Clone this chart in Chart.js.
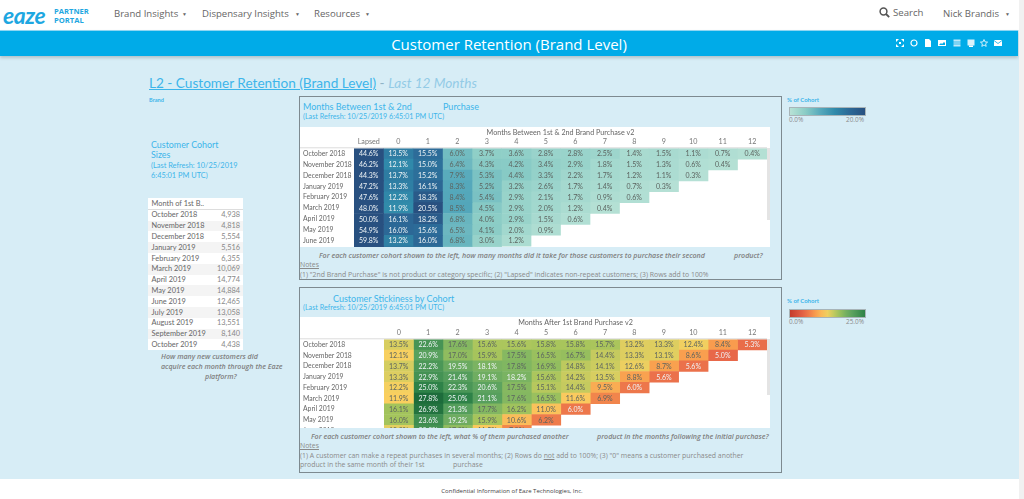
<!DOCTYPE html>
<html>
<head>
<meta charset="utf-8">
<title>Customer Retention (Brand Level)</title>
<script src="https://cdn.jsdelivr.net/npm/chart.js@4/dist/chart.umd.min.js"></script>
<style>
html, body { margin: 0; padding: 0; }
body { width: 1024px; height: 499px; overflow: hidden; position: relative; background: #d7edf6; font-family: Lato, sans-serif; color: #666; }
.t { position: absolute; white-space: nowrap; line-height: 1; }
.blue { color: #3db5ea; }
.q { font-family: "Open Sans", sans-serif; font-style: italic; font-weight: 600; color: #808080; font-size: 7.1px; }
.n { font-family: "Open Sans", sans-serif; color: #8a8a8a; font-size: 6.9px; }
.m { font-family: "Open Sans", sans-serif; font-size: 9.6px; }
.c { font-size: 5px; }
#nav { position: absolute; left: 0; top: 0; width: 1024px; height: 30px; background: #fff; }
#band { position: absolute; left: 0; top: 30px; width: 1018px; height: 26px; background: #00abe8; border-top: 1px solid #8fd6f2; box-sizing: border-box; box-shadow: 0 2px 3px rgba(0,0,0,.18); }
#foot { position: absolute; left: 0; top: 479px; width: 1024px; height: 20px; background: #fff; }
#scroll { position: absolute; left: 1019px; top: 0; width: 5px; height: 499px; background: #f1f1f1; }
.panel { position: absolute; left: 299px; width: 483px; border: 1px solid #7d8a90; box-sizing: border-box; }
.white { position: absolute; background: #fff; overflow: hidden; }
.bar { position: absolute; left: 767px; width: 3px; background: #e4e4e4; }
.white canvas { display: block; }
.legend { position: absolute; left: 789px; width: 77px; height: 9px; box-sizing: border-box; border: 1px solid #a8b4b8; }
#cohort { position: absolute; left: 148px; top: 198px; width: 95px; height: 150px; background: #fff; border-collapse: collapse; font-size: 7.4px; color: #666; }
#cohort td, #cohort th { padding: 0 3px 0 3.500px; height: 10.8px; font-weight: 400; line-height: 1; white-space: nowrap; }
#cohort th { text-align: left; border-bottom: 1px solid #ddd; }
#cohort td:last-child { text-align: right; color: #888; }
#cohort tr.alt td { background: #f4f4f4; }
svg.ic { position: absolute; top: 39px; width: 8px; height: 8px; }
</style>
</head>
<body>
<div id="nav"></div>
<div class="t" style="left:3px;top:1px;font:italic 700 23px Lato,sans-serif;color:#1ea7e1;letter-spacing:-.5px">eaze</div>
<div class="t" style="left:54px;top:7px;font:700 7.6px/8.5px 'Open Sans',sans-serif;color:#1ea7e1;white-space:pre">PARTNER
PORTAL</div>
<div class="t m" style="left:114px;top:9px">Brand Insights</div>
<div class="t c" style="left:182px;top:12px">&#9660;</div>
<div class="t m" style="left:202px;top:9px">Dispensary Insights</div>
<div class="t c" style="left:295px;top:12px">&#9660;</div>
<div class="t m" style="left:314px;top:9px">Resources</div>
<div class="t c" style="left:365px;top:12px">&#9660;</div>
<svg style="position:absolute;left:879px;top:7px;width:11px;height:11px" viewBox="0 0 11 11"><circle cx="4.5" cy="4.5" r="3.4" fill="none" stroke="#555" stroke-width="1.5"/><line x1="7" y1="7" x2="10.2" y2="10.2" stroke="#555" stroke-width="1.8"/></svg>
<div class="t m" style="left:893px;top:8px">Search</div>
<div class="t m" style="left:943px;top:9px">Nick Brandis</div>
<div class="t c" style="left:1005px;top:12px">&#9660;</div>
<div id="band"></div>
<div class="t" style="left:0;top:34px;width:1018px;text-align:center;font:15px 'Open Sans',sans-serif;color:#fff">Customer Retention (Brand Level)</div>
<div id="icons"></div>

<div class="t blue" style="left:149px;top:77px;font-size:13.6px"><u>L2 - Customer Retention (Brand Level)</u> <span style="color:#8fb4c6">- <i style="color:#93cbe6">Last 12 Months</i></span></div>
<div class="t blue" style="left:149px;top:97px;font-size:5.6px;font-weight:700">Brand</div>

<div class="t blue" style="left:151px;top:141px;font-size:8.9px">Customer Cohort</div>
<div class="t blue" style="left:151px;top:151px;font-size:8.9px">Sizes</div>
<div class="t blue" style="left:151px;top:162px;font-size:7.4px">(Last Refresh: 10/25/2019</div>
<div class="t blue" style="left:151px;top:172px;font-size:7.4px">6:45:01 PM UTC)</div>
<table id="cohort"></table>
<div class="t q" style="left:161px;top:353px">How many new customers did</div>
<div class="t q" style="left:161px;top:363px">acquire each month through the Eaze</div>
<div class="t q" style="left:205px;top:373px">platform?</div>

<div class="panel" style="top:96px;height:184px"></div>
<div class="t blue" style="left:303px;top:102px;font-size:9px">Months Between 1st &amp; 2nd</div>
<div class="t blue" style="left:443px;top:102px;font-size:9px">Purchase</div>
<div class="t blue" style="left:303px;top:113px;font-size:7.2px">(Last Refresh: 10/25/2019 6:45:01 PM UTC)</div>
<div class="white" style="left:300px;top:127px;width:470px;height:120px"><canvas id="gapChart" width="467" height="130"></canvas></div>
<div class="bar" style="top:148px;height:72px"></div>
<div class="t q" style="left:319px;top:252px">For each customer cohort shown to the left, how many months did it take for those customers to purchase their second</div>
<div class="t q" style="left:734px;top:252px">product?</div>
<div class="t n" style="left:300px;top:262px"><u>Notes</u></div>
<div class="t n" style="left:300px;top:272px">(1) "2nd Brand Purchase" is not product or category specific; (2) "Lapsed" indicates non-repeat customers; (3) Rows add to 100%</div>

<div class="panel" style="top:287px;height:186px"></div>
<div class="t blue" style="left:333px;top:294px;font-size:9px">Customer Stickiness by Cohort</div>
<div class="t blue" style="left:303px;top:304px;font-size:7.2px">(Last Refresh: 10/25/2019 6:45:01 PM UTC)</div>
<div class="white" style="left:300px;top:317px;width:470px;height:111px"><canvas id="stickChart" width="467" height="119"></canvas></div>
<div class="bar" style="top:339px;height:56px"></div>
<div class="t q" style="left:311px;top:433px">For each customer cohort shown to the left, what % of them purchased another</div>
<div class="t q" style="left:597px;top:433px">product in the months following the initial purchase?</div>
<div class="t n" style="left:300px;top:443px"><u>Notes</u></div>
<div class="t n" style="left:300px;top:453px">(1) A customer can make a repeat purchases in several months; (2) Rows do <u>not</u> add to 100%; (3) "0" means a customer purchased another</div>
<div class="t n" style="left:300px;top:462px">product in the same month of their 1st</div>
<div class="t n" style="left:453px;top:462px">purchase</div>

<div class="t blue" style="left:787px;top:97px;font-size:6px;font-weight:700">% of Cohort</div>
<div class="legend" id="legendBlue" style="top:107px"></div>
<div class="t n" style="left:789px;top:117px;font-size:6.4px">0.0%</div>
<div class="t n" style="left:846px;top:117px;font-size:6.4px">20.0%</div>
<div class="t blue" style="left:787px;top:298px;font-size:6px;font-weight:700">% of Cohort</div>
<div class="legend" id="legendHeat" style="top:309px"></div>
<div class="t n" style="left:789px;top:319px;font-size:6.4px">0.0%</div>
<div class="t n" style="left:846px;top:319px;font-size:6.4px">25.0%</div>

<div id="foot"></div>
<div class="t" style="left:0;top:487px;width:1024px;text-align:center;font:6px 'Open Sans',sans-serif;color:#444">Confidential Information of Eaze Technologies, Inc.</div>
<div id="scroll"></div>

<script>
const cohortMonths = ["October 2018", "November 2018", "December 2018", "January 2019", "February 2019", "March 2019", "April 2019", "May 2019", "June 2019", "July 2019", "August 2019", "September 2019", "October 2019"];
const cohortSizes = ["4,938", "4,818", "5,554", "5,516", "6,355", "10,069", "14,774", "14,884", "12,465", "13,058", "13,551", "8,140", "4,438"];

const gapColumns = ["Lapsed", "0", "1", "2", "3", "4", "5", "6", "7", "8", "9", "10", "11", "12"];
const gapOct18 = [44.6, 13.5, 15.5, 6.0, 3.7, 3.6, 2.8, 2.8, 2.5, 1.4, 1.5, 1.1, 0.7, 0.4];
const gapNov18 = [46.2, 12.1, 15.0, 6.4, 4.3, 4.2, 3.4, 2.9, 1.8, 1.5, 1.3, 0.6, 0.4];
const gapDec18 = [44.3, 13.7, 15.2, 7.9, 5.3, 4.4, 3.3, 2.2, 1.7, 1.2, 1.1, 0.3];
const gapJan19 = [47.2, 13.3, 16.1, 8.3, 5.2, 3.2, 2.6, 1.7, 1.4, 0.7, 0.3];
const gapFeb19 = [47.6, 12.2, 18.3, 8.4, 5.4, 2.9, 2.1, 1.7, 0.9, 0.6];
const gapMar19 = [48.0, 11.9, 20.5, 8.5, 4.5, 2.9, 2.0, 1.2, 0.4];
const gapApr19 = [50.0, 16.1, 18.2, 6.8, 4.0, 2.9, 1.5, 0.6];
const gapMay19 = [54.9, 16.0, 15.6, 6.5, 4.1, 2.0, 0.9];
const gapJun19 = [59.8, 13.2, 16.0, 6.8, 3.0, 1.2];
const gapJul19 = [62.0, 14.0, 15.0, 6.0, 2.5];
const gapRows = [gapOct18, gapNov18, gapDec18, gapJan19, gapFeb19, gapMar19, gapApr19, gapMay19, gapJun19, gapJul19];

const stickColumns = ["0", "1", "2", "3", "4", "5", "6", "7", "8", "9", "10", "11", "12"];
const stickOct18 = [13.5, 22.6, 17.6, 15.6, 15.6, 15.8, 15.8, 15.7, 13.2, 13.3, 12.4, 8.4, 5.3];
const stickNov18 = [12.1, 20.9, 17.0, 15.9, 17.5, 16.5, 16.7, 14.4, 13.3, 13.1, 8.6, 5.0];
const stickDec18 = [13.7, 22.2, 19.5, 18.1, 17.8, 16.9, 14.8, 14.1, 12.6, 8.7, 5.6];
const stickJan19 = [13.3, 22.9, 21.4, 19.1, 18.2, 15.6, 14.2, 13.5, 8.8, 5.6];
const stickFeb19 = [12.2, 25.0, 22.3, 20.6, 17.5, 15.1, 14.4, 9.5, 6.0];
const stickMar19 = [11.9, 27.8, 25.0, 21.1, 17.6, 16.5, 11.6, 6.9];
const stickApr19 = [16.1, 26.9, 21.3, 17.7, 16.2, 11.0, 6.0];
const stickMay19 = [16.0, 23.6, 19.2, 15.9, 10.6, 6.2];
const stickJun19 = [13.0, 23.0, 17.0, 11.5, 7.0];
const stickRows = [stickOct18, stickNov18, stickDec18, stickJan19, stickFeb19, stickMar19, stickApr19, stickMay19, stickJun19];

const fontName = "Lato, sans-serif";

// rampas de color tipo Tableau, [valor, r, g, b]
const blueRamp = [[0, 184, 226, 214], [4, 140, 205, 198], [8, 88, 170, 188], [12, 48, 138, 170], [16, 44, 104, 150], [20, 40, 80, 128]];
const heatRamp = [[0, 196, 60, 44], [5, 232, 104, 74], [8.5, 249, 158, 78], [12, 250, 208, 96], [13.5, 216, 206, 96], [16, 164, 196, 92], [18, 124, 180, 98], [21, 88, 160, 94], [25, 46, 130, 72], [28, 28, 106, 58]];

function rampColor(ramp, v) {
    if (v <= ramp[0][0]) return `rgb(${ramp[0][1]},${ramp[0][2]},${ramp[0][3]})`;
    for (let i = 1; i < ramp.length; i++) {
        if (v <= ramp[i][0]) {
            const a = ramp[i - 1], b = ramp[i];
            const f = (v - a[0]) / (b[0] - a[0]);
            const c = [1, 2, 3].map(k => Math.round(a[k] + (b[k] - a[k]) * f));
            return `rgb(${c[0]},${c[1]},${c[2]})`;
        }
    }
    const l = ramp[ramp.length - 1];
    return `rgb(${l[1]},${l[2]},${l[3]})`;
}

// Escribe el valor dentro de cada celda
const cellLabels = {
    id: "cellLabels",
    afterDatasetsDraw(chart, args, opts) {
        const ctx = chart.ctx;
        ctx.save();
        ctx.font = "7px " + fontName;
        ctx.textAlign = "center";
        ctx.textBaseline = "middle";
        chart.data.datasets.forEach((ds, c) => {
            chart.getDatasetMeta(c).data.forEach((bar, r) => {
                const v = opts.rows[r][c];
                if (v === undefined) return;
                ctx.fillStyle = (v >= opts.lightFrom || v <= opts.lightBelow) ? "#eef3f5" : "#5c6460";
                ctx.fillText(v.toFixed(1) + "%", (bar.base + bar.x) / 2, bar.y + 0.5);
            });
        });
        // linea bajo la cabecera
        ctx.strokeStyle = "#dcdcdc";
        ctx.lineWidth = 1;
        ctx.beginPath();
        ctx.moveTo(0, chart.chartArea.top - 0.5);
        ctx.lineTo(chart.width, chart.chartArea.top - 0.5);
        ctx.stroke();
        ctx.restore();
    }
};

function heatTable(id, columns, rows, ramp, title, headHeight, labelWidth, lightFrom, lightBelow) {
    const datasets = columns.map((col, c) => ({
        label: col,
        data: rows.map(r => r[c] === undefined ? null : 1),
        backgroundColor: rows.map(r => r[c] === undefined ? "transparent" : rampColor(ramp, r[c])),
        borderWidth: 0,
        barPercentage: 1,
        categoryPercentage: 1
    }));
    new Chart(document.getElementById(id), {
        type: "bar",
        data: { labels: cohortMonths.slice(0, rows.length), datasets: datasets },
        plugins: [cellLabels],
        options: {
            indexAxis: "y",
            responsive: false,
            animation: false,
            devicePixelRatio: 1,
            layout: { padding: { left: 3 } },
            events: [],
            plugins: {
                legend: { display: false },
                tooltip: { enabled: false },
                cellLabels: { rows: rows, lightFrom: lightFrom, lightBelow: lightBelow }
            },
            scales: {
                x: { type: "linear", stacked: true, display: false, min: 0, max: columns.length },
                columns: {
                    type: "category",
                    position: "top",
                    labels: columns,
                    offset: true,
                    grid: { display: false, drawTicks: false },
                    border: { display: false },
                    title: { display: true, text: title, color: "#666", font: { family: fontName, size: 7.2 }, padding: { top: 1, bottom: 1 } },
                    ticks: { color: "#777", font: { family: fontName, size: 7.2 }, maxRotation: 0, autoSkip: false, padding: 2 },
                    afterFit: s => { s.height = headHeight; }
                },
                y: {
                    stacked: true,
                    grid: { display: false },
                    border: { display: false },
                    ticks: { color: "#666", font: { family: fontName, size: 6.8 }, crossAlign: "far", autoSkip: false, padding: 0 },
                    afterFit: s => { s.width = labelWidth - 3; s.paddingTop = 0; s.paddingBottom = 0; }
                }
            }
        }
    });
}

heatTable("gapChart", gapColumns, gapRows, blueRamp, "Months Between 1st & 2nd Brand Purchase v2", 21.3, 54, 11, -1);
heatTable("stickChart", stickColumns, stickRows, heatRamp, "Months After 1st Brand Purchase v2", 22.3, 84, 18, 6.1);

// tabla de cohortes
let cohortHtml = "<tr><th>Month of 1st B..</th><th></th></tr>";
cohortMonths.forEach((m, i) => {
    cohortHtml += `<tr class="${i % 2 ? "alt" : ""}"><td>${m}</td><td>${cohortSizes[i]}</td></tr>`;
});
document.getElementById("cohort").innerHTML = cohortHtml;

// leyendas
function rampGradient(ramp, max, steps) {
    const parts = [];
    for (let i = 0; i <= steps; i++) parts.push(rampColor(ramp, max * i / steps));
    return "linear-gradient(to right," + parts.join(",") + ")";
}
document.getElementById("legendBlue").style.background = rampGradient(blueRamp, 20, 10);
document.getElementById("legendHeat").style.background = rampGradient(heatRamp, 25, 12);

// iconos de la barra
const iconXs = [896, 910, 924, 938, 953, 967, 980, 994];
const iconShapes = [
    '<path d="M0 0h3L0 3zM8 0v3L5 0zM0 8V5l3 3zM8 8H5l3-3z" fill="#fff"/><rect x="3" y="3" width="2" height="2" fill="#fff"/>',
    '<circle cx="4" cy="4" r="3" fill="none" stroke="#fff" stroke-width="1.2"/>',
    '<path d="M1 0h4l2 2v6H1z" fill="#fff"/>',
    '<rect x="0" y="1" width="8" height="6" fill="#fff"/><path d="M1 6l2-2 1 1 2-2 1 1v2z" fill="#00abe8"/>',
    '<rect x="0.5" y="0.5" width="7" height="7" fill="#bfe9f9"/><path d="M0 3h8M0 5h8" stroke="#00abe8" stroke-width=".7"/>',
    '<rect x="0.5" y="0.5" width="7" height="6" fill="#d8f2fb"/><rect x="2" y="6.5" width="4" height="1.5" fill="#fff"/>',
    '<path d="M4 .5l1 2.4 2.6.2-2 1.7.6 2.6L4 6l-2.2 1.4.6-2.6-2-1.7L3 2.900z" fill="none" stroke="#fff" stroke-width=".8"/>',
    '<rect x="0" y="1" width="8" height="6" fill="#fff"/><path d="M0 1.500l4 3 4-3" fill="none" stroke="#00abe8" stroke-width=".8"/>'
];
document.getElementById("icons").innerHTML = iconXs.map((x, i) =>
    `<svg class="ic" style="left:${x}px" viewBox="0 0 8 8">${iconShapes[i]}</svg>`).join("");
</script>
</body>
</html>
